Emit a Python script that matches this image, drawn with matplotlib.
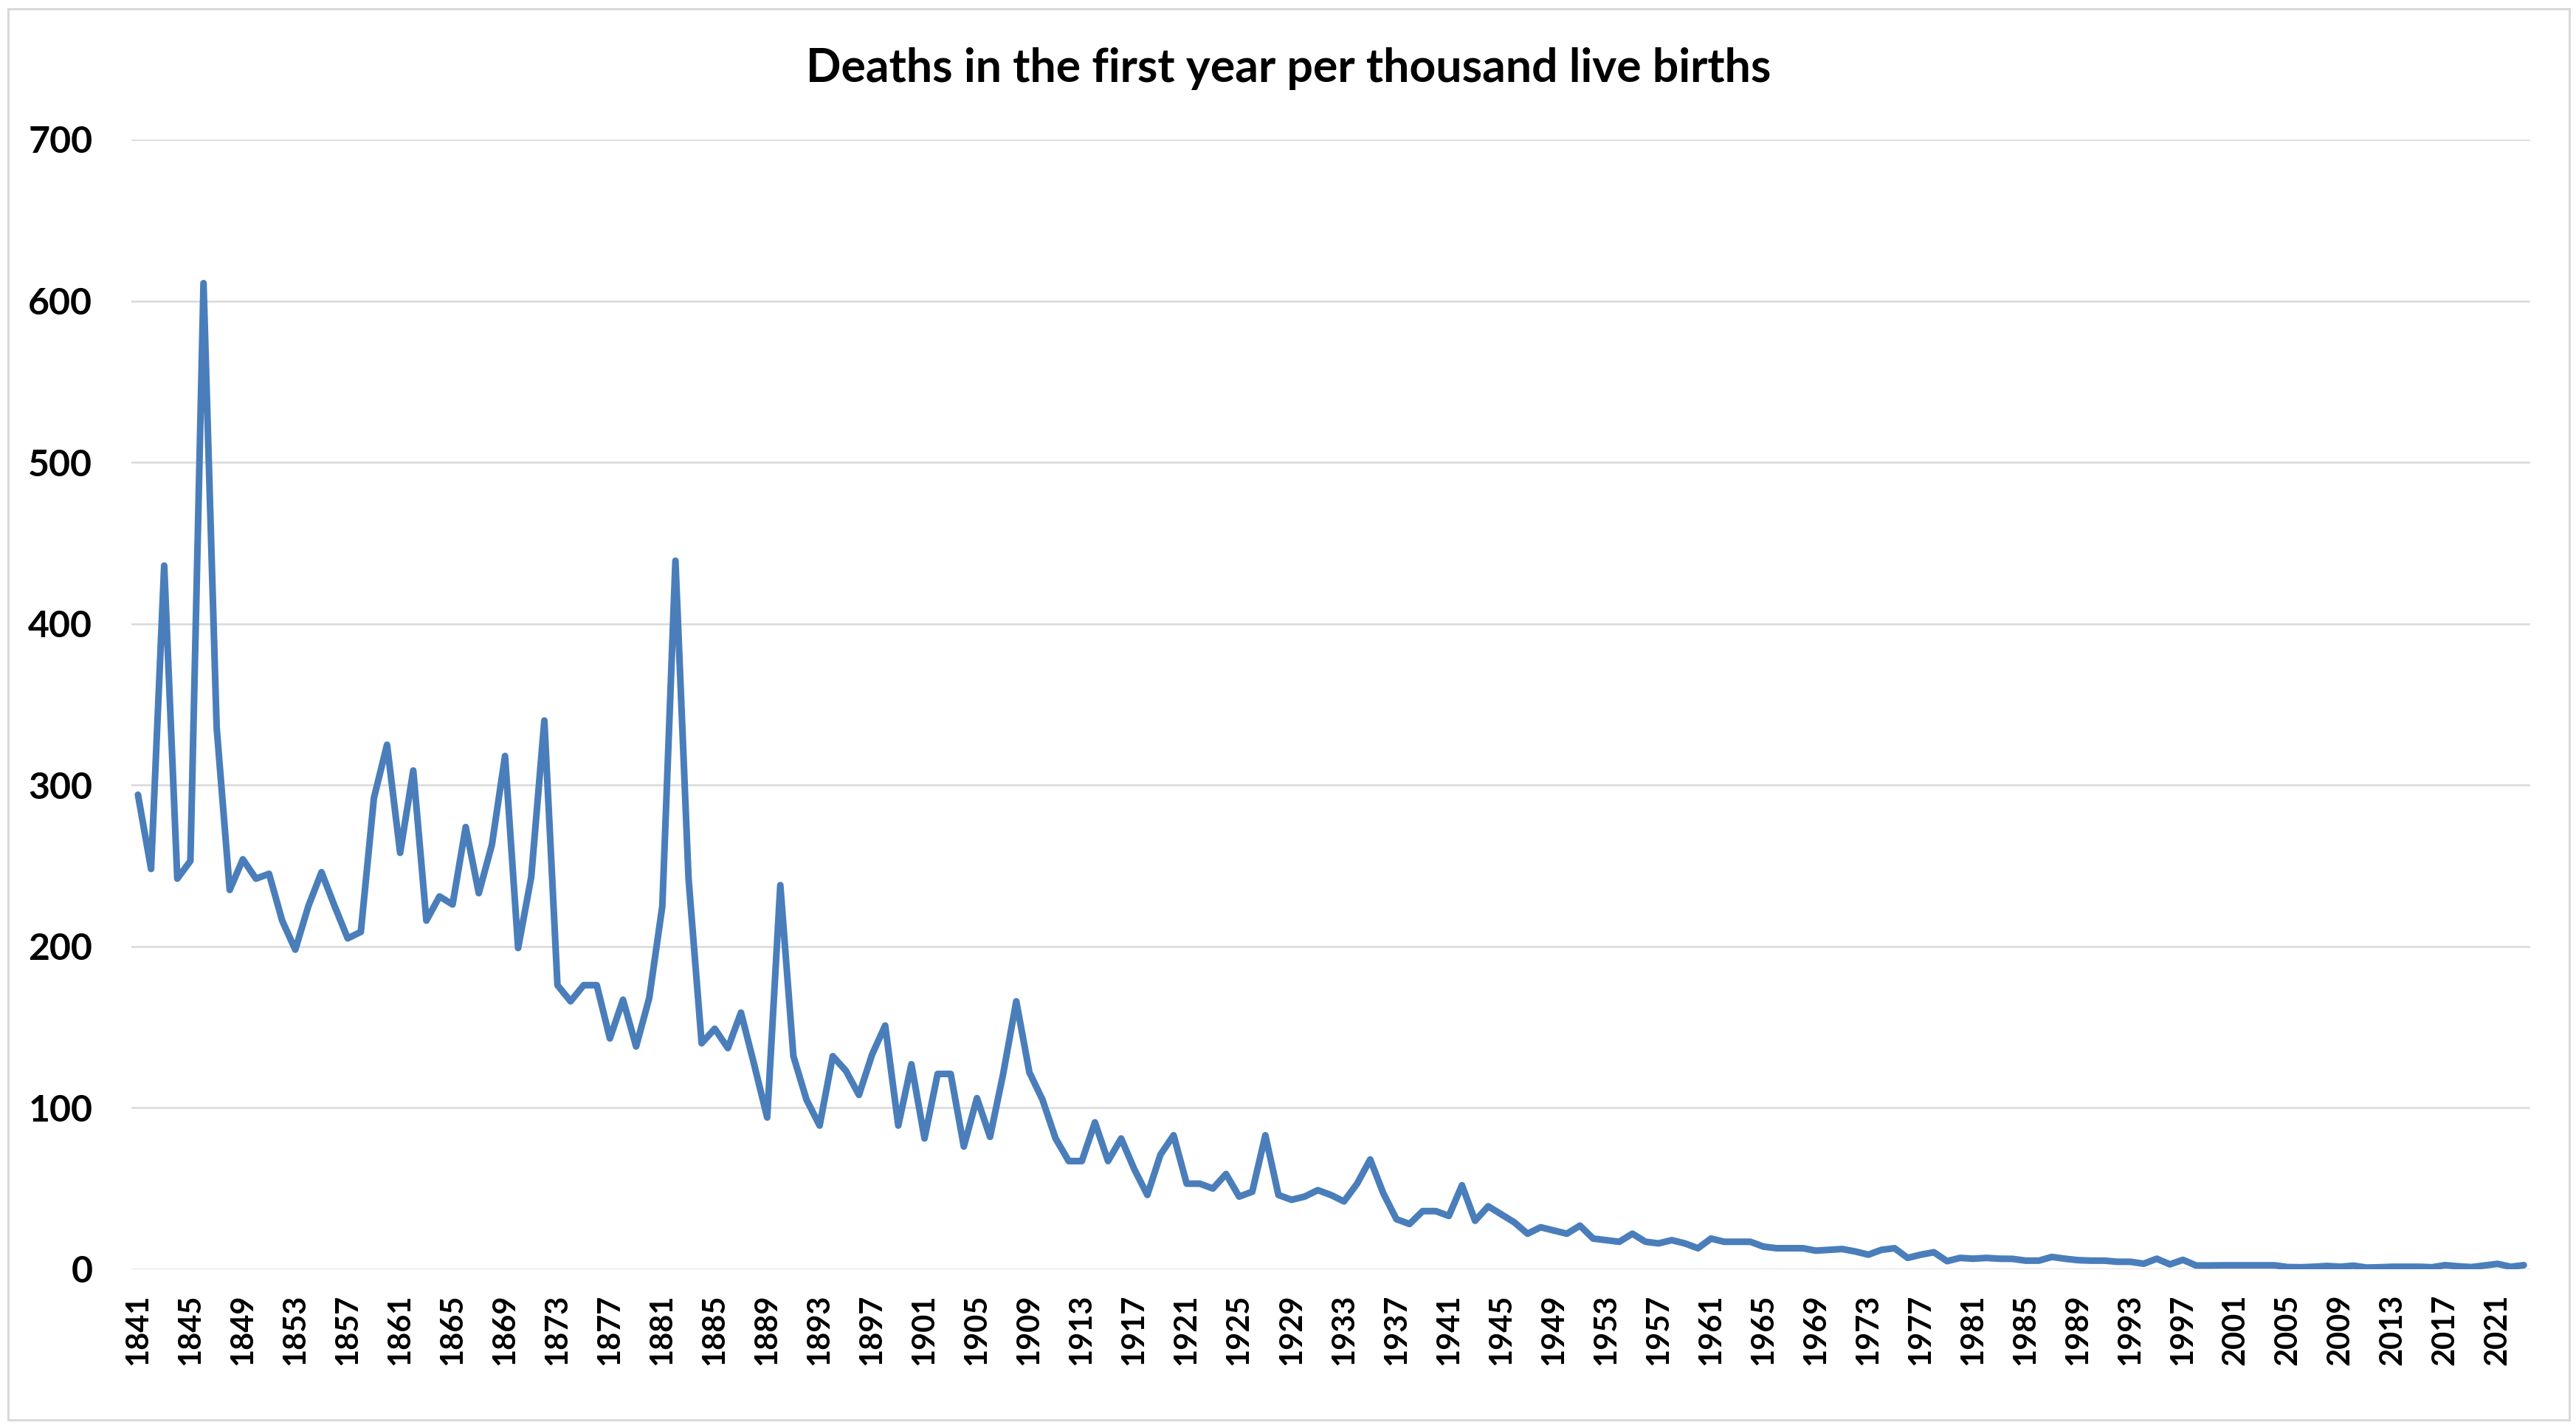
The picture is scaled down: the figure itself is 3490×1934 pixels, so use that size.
import matplotlib
matplotlib.use("Agg")
import matplotlib.pyplot as plt
from matplotlib.patches import Rectangle

# --- data ---
years = list(range(1841, 2024))
deaths_per_1000 = [
    294, 248, 436, 242, 253, 611, 336, 235, 254, 242,
    245, 216, 198, 225, 246, 225, 205, 209, 292, 325,
    258, 309, 216, 231, 226, 274, 233, 263, 318, 199,
    243, 340, 176, 166, 176, 176, 143, 167, 138, 168,
    225, 439, 242, 140, 149, 137, 159, 127, 94, 238,
    132, 105, 89, 132, 123, 108, 133, 151, 89, 127,
    81, 121, 121, 76, 106, 82, 121, 166, 122, 105,
    81, 67, 67, 91, 67, 81, 62, 46, 71, 83,
    53, 53, 50, 59, 45, 48, 83, 46, 43, 45,
    49, 46, 42, 53, 68, 47, 31, 28, 36, 36,
    33, 52, 30, 39, 34, 29, 22, 26, 24, 22,
    27, 19, 18, 17, 22, 17, 16, 18, 16, 13,
    19, 17, 17, 17, 14, 13, 13, 13, 11.5, 12,
    12.5, 11, 9, 12, 13, 7, 9, 10.5, 5, 7,
    6.5, 7, 6.5, 6.4, 5.3, 5.3, 7.6, 6.5, 5.6, 5.3,
    5.3, 4.6, 4.6, 3.4, 6.5, 3, 5.8, 2.3, 2.3, 2.4,
    2.4, 2.4, 2.4, 2.4, 1.3, 1.2, 1.5, 2.0, 1.5, 2.2,
    1.0, 1.2, 1.5, 1.5, 1.5, 1.2, 2.5, 1.8, 1.3, 2.3,
    3.3, 1.5, 2.5,
]
tick_years = list(range(1841, 2022, 4))
y_ticks = list(range(0, 701, 100))

LINE_COLOR = "#4A7EBB"
GRID_COLOR = "#D9D9D9"

fig = plt.figure(figsize=(34.91, 19.34), dpi=100)
ax = fig.add_axes([0.051, 0.1112, 0.931, 0.7911])

ax.plot(years, deaths_per_1000, color=LINE_COLOR, linewidth=6.5,
        solid_joinstyle="round", solid_capstyle="round", zorder=3)

ax.set_xlim(1840.5, 2023.5)
ax.set_ylim(0, 700)
ax.set_yticks(y_ticks)
ax.set_xticks(tick_years)
ax.set_xticklabels([str(y) for y in tick_years], rotation=90,
                   family="Lato", fontweight="bold", fontsize=30)
ax.set_yticklabels([str(v) for v in y_ticks], family="Lato",
                   fontweight="bold", fontsize=36)

ax.tick_params(axis="both", length=0, colors="black")
ax.tick_params(axis="x", pad=24)
ax.tick_params(axis="y", pad=38)
ax.grid(axis="y", color=GRID_COLOR, linewidth=1.8, zorder=0)
ax.set_axisbelow(True)
for side in ax.spines.values():
    side.set_visible(False)

fig.text(0.5, 0.952, "Deaths in the first year per thousand live births",
         ha="center", va="center", family="Lato", fontweight="bold",
         fontsize=45)

# light frame around the chart area
fig.patches.append(Rectangle((0.0032, 0.0057), 0.9939, 0.9881,
                             transform=fig.transFigure, fill=False,
                             edgecolor=GRID_COLOR, linewidth=2.2))

fig.savefig("out.png", dpi=100, facecolor="white")
